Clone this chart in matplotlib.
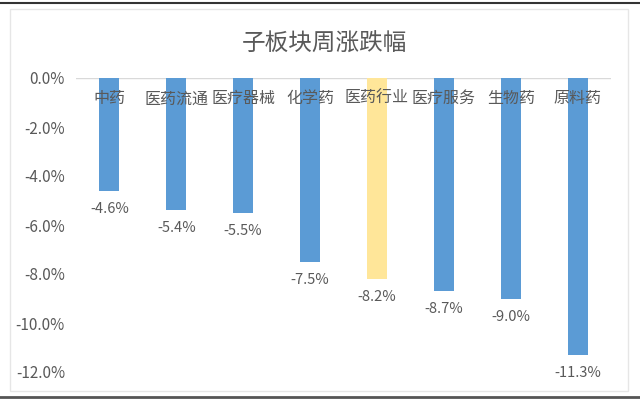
import matplotlib.pyplot as plt
from matplotlib.patches import Rectangle
from matplotlib.lines import Line2D

plt.rcParams['font.family'] = ['Noto Sans CJK SC', 'DejaVu Sans']

# data
categories = ["中药", "医药流通", "医疗器械", "化学药", "医药行业", "医疗服务", "生物药", "原料药"]
changes = [-4.6, -5.4, -5.5, -7.5, -8.2, -8.7, -9.0, -11.3]
highlight = "医药行业"
y_ticks = [0, -2, -4, -6, -8, -10, -12]

BLUE = "#5b9bd5"
YELLOW = "#ffe699"
TEXT = "#595959"

fig = plt.figure(figsize=(6.4, 3.99), dpi=100)
ax = fig.add_axes([76 / 640, 1 - 372 / 399, 535 / 640, (372 - 78) / 399])

# outer frame lines and the light chart border
fig.add_artist(Line2D([0, 1], [1 - 3 / 399, 1 - 3 / 399], color="#333333", lw=1.5))
fig.add_artist(Line2D([0, 1], [1 - 397 / 399, 1 - 397 / 399], color="#555555", lw=2))
fig.add_artist(Rectangle((10 / 640, 1 - 391 / 399), 618 / 640, 382 / 399,
                         fill=False, edgecolor="#e6e6e6", lw=1))

x = range(len(categories))
colors = [YELLOW if c == highlight else BLUE for c in categories]
ax.bar(x, changes, width=0.3, color=colors, zorder=2)

for i, v in enumerate(changes):
    ax.text(i, v - 0.45, f"{v:.1f}%", ha="center", va="top",
            fontsize=10.5, color=TEXT)

# category labels sit just under the zero line, across the bars
for i, c in enumerate(categories):
    ax.text(i, -0.85, c, ha="center", va="center", fontsize=11.5, color=TEXT, zorder=3)

ax.set_xlim(-0.5, len(categories) - 0.5)
ax.set_ylim(-12, 0)
ax.set_yticks(y_ticks)
ax.set_yticklabels([f"{t:.1f}%" for t in y_ticks])
ax.tick_params(axis="y", length=0, labelsize=11, labelcolor=TEXT, pad=8)
ax.set_xticks([])
for s in ax.spines.values():
    s.set_visible(False)
ax.axhline(0, color="#d9d9d9", lw=1, zorder=1)

fig.text(324 / 640, 1 - 44 / 399, "子板块周涨跌幅", ha="center", va="center",
         fontsize=17, color=TEXT)

fig.savefig("out.png", dpi=100)
